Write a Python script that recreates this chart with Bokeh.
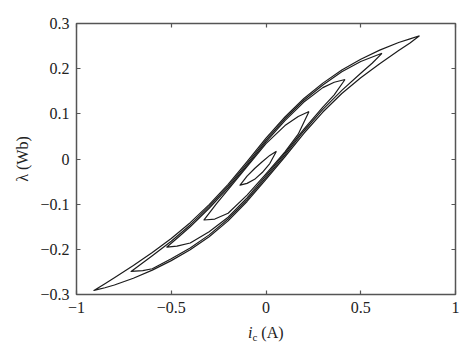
from bokeh.plotting import figure
from bokeh.models import Range1d, FixedTicker, LinearAxis, CustomJSTickFormatter, Div
from bokeh.layouts import column
from bokeh.embed import file_html
from bokeh.resources import INLINE

# ---- data (current i_c in A, flux linkage lambda in Wb) ----
# loop 1 (outer): descending branch then ascending branch
loop1_x_desc = [0.81, 0.76, 0.70, 0.60, 0.50, 0.40, 0.30, 0.20, 0.10, 0.00, -0.10, -0.20, -0.30, -0.40, -0.50, -0.60, -0.70, -0.80, -0.85, -0.908]
loop1_y_desc = [0.273, 0.266, 0.258, 0.241, 0.221, 0.197, 0.168, 0.134, 0.093, 0.046, -0.006, -0.056, -0.101, -0.141, -0.176, -0.207, -0.236, -0.263, -0.276, -0.291]
loop1_x_asc = [-0.908, -0.85, -0.80, -0.70, -0.60, -0.50, -0.40, -0.30, -0.20, -0.10, 0.00, 0.10, 0.20, 0.30, 0.40, 0.50, 0.60, 0.70, 0.76, 0.81]
loop1_y_asc = [-0.291, -0.285, -0.279, -0.264, -0.246, -0.225, -0.201, -0.172, -0.137, -0.094, -0.045, 0.005, 0.057, 0.104, 0.145, 0.180, 0.211, 0.240, 0.257, 0.273]

# loop 2
loop2_x_desc = [0.612, 0.50, 0.40, 0.30, 0.20, 0.10, 0.00, -0.10, -0.20, -0.30, -0.40, -0.50, -0.60, -0.712]
loop2_y_desc = [0.234, 0.216, 0.193, 0.164, 0.130, 0.089, 0.042, -0.010, -0.060, -0.105, -0.146, -0.182, -0.214, -0.249]
loop2_x_asc = [-0.712, -0.65, -0.60, -0.50, -0.40, -0.30, -0.20, -0.10, 0.00, 0.10, 0.20, 0.30, 0.40, 0.50, 0.56, 0.612]
loop2_y_asc = [-0.249, -0.247, -0.243, -0.221, -0.197, -0.168, -0.133, -0.090, -0.041, 0.009, 0.062, 0.110, 0.152, 0.190, 0.212, 0.234]

# loop 3
loop3_x_desc = [0.417, 0.36, 0.30, 0.20, 0.10, 0.00, -0.10, -0.20, -0.30, -0.40, -0.46, -0.523]
loop3_y_desc = [0.176, 0.170, 0.158, 0.126, 0.085, 0.038, -0.014, -0.064, -0.109, -0.150, -0.172, -0.195]
loop3_x_asc = [-0.523, -0.47, -0.40, -0.30, -0.20, -0.10, 0.00, 0.10, 0.20, 0.30, 0.36, 0.417]
loop3_y_asc = [-0.195, -0.193, -0.186, -0.161, -0.129, -0.086, -0.037, 0.013, 0.066, 0.115, 0.142, 0.176]

# loop 4
loop4_x_desc = [0.227, 0.17, 0.10, 0.00, -0.10, -0.20, -0.26, -0.327]
loop4_y_desc = [0.105, 0.094, 0.074, 0.034, -0.017, -0.068, -0.098, -0.135]
loop4_x_asc = [-0.327, -0.27, -0.20, -0.10, 0.00, 0.10, 0.17, 0.227]
loop4_y_asc = [-0.135, -0.133, -0.120, -0.080, -0.033, 0.016, 0.055, 0.105]

# loop 5 (inner)
loop5_x_desc = [0.055, 0.02, -0.02, -0.06, -0.10, -0.137]
loop5_y_desc = [0.017, 0.008, -0.006, -0.021, -0.038, -0.058]
loop5_x_asc = [-0.137, -0.10, -0.06, -0.02, 0.02, 0.055]
loop5_y_asc = [-0.058, -0.054, -0.045, -0.030, -0.010, 0.017]

x_ticks = [-1, -0.5, 0, 0.5, 1]
y_ticks = [-0.3, -0.2, -0.1, 0, 0.1, 0.2, 0.3]

FONT = "'Liberation Serif', 'Times New Roman', serif"
FRAME = "#555555"
INK = "#1c1c1c"
TXT = "#222222"

p = figure(width=474, height=322, output_backend="svg", toolbar_location=None,
           x_range=Range1d(-1, 1), y_range=Range1d(-0.3, 0.3),
           min_border_left=76, min_border_right=19, min_border_top=23, min_border_bottom=28,
           background_fill_color="white", border_fill_color="white", margin=(0, 0, 0, 0))
p.xgrid.visible = False
p.ygrid.visible = False
p.outline_line_color = FRAME
p.outline_line_width = 1.5

fmt = CustomJSTickFormatter(code="""
let s = Math.abs(tick) < 1e-9 ? "0" : String(Math.round(tick * 10) / 10);
return s.replace("-", "\\u2212");
""")
blank = CustomJSTickFormatter(code="return '';")

def style_axis(ax, ticks, show_labels):
    ax.ticker = FixedTicker(ticks=ticks)
    ax.formatter = fmt if show_labels else blank
    ax.axis_line_color = None
    ax.major_tick_in = 4
    ax.major_tick_out = 0
    ax.major_tick_line_color = FRAME
    ax.major_tick_line_width = 1.2
    ax.minor_tick_line_color = None
    ax.major_label_text_font = FONT
    ax.major_label_text_font_size = "16px"
    ax.major_label_text_color = TXT
    ax.major_label_standoff = 7 if show_labels else 0

style_axis(p.xaxis[0], x_ticks, True)
style_axis(p.yaxis[0], y_ticks, True)
p.yaxis[0].major_label_standoff = 7
p.yaxis[0].axis_label = "λ (Wb)"
p.yaxis[0].axis_label_text_font = FONT
p.yaxis[0].axis_label_text_font_style = "normal"
p.yaxis[0].axis_label_text_font_size = "16px"
p.yaxis[0].axis_label_text_color = TXT
p.yaxis[0].axis_label_standoff = 6

top = LinearAxis()
style_axis(top, x_ticks, False)
p.add_layout(top, "above")
right = LinearAxis()
style_axis(right, y_ticks, False)
p.add_layout(right, "right")

loops_x = [loop1_x_desc + loop1_x_asc[1:], loop2_x_desc + loop2_x_asc[1:], loop3_x_desc + loop3_x_asc[1:],
           loop4_x_desc + loop4_x_asc[1:], loop5_x_desc + loop5_x_asc[1:]]
loops_y = [loop1_y_desc + loop1_y_asc[1:], loop2_y_desc + loop2_y_asc[1:], loop3_y_desc + loop3_y_asc[1:],
           loop4_y_desc + loop4_y_asc[1:], loop5_y_desc + loop5_y_asc[1:]]
p.multi_line(loops_x, loops_y, line_color=INK, line_width=1.2, line_join="round")

# x axis title: i_c (A)
xlabel = Div(text=('<span style="font-family:\'Liberation Serif\',serif;font-size:16px;color:#222222;'
                   'white-space:nowrap;line-height:18px">'
                   '<i>i</i><sub style="font-size:11px;vertical-align:-3px">c</sub> (A)</span>'),
             width=474, height=35, margin=(0, 0, 0, 0),
             styles={"padding-left": "248px", "padding-top": "2px", "box-sizing": "border-box"})

layout = column(p, xlabel, spacing=0, margin=(0, 0, 0, 0))
open("out.html", "w").write(file_html(layout, INLINE))
